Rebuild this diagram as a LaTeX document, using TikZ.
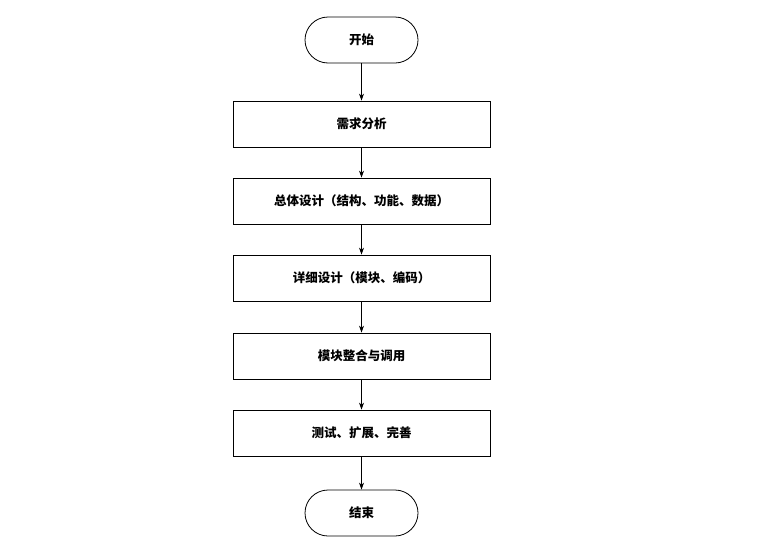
\documentclass[tikz,border=0pt]{standalone}
\usepackage{fontspec}
\newfontfamily\cjk{Noto Sans CJK SC}
\usetikzlibrary{arrows.meta}
\begin{document}
\begin{tikzpicture}[x=1pt,y=-1pt,
  box/.style={draw,line width=0.8pt,minimum width=257pt,minimum height=46pt,font=\cjk\bfseries\fontsize{12.5}{14}\selectfont,inner sep=0pt},
  term/.style={draw,line width=0.8pt,rounded corners=23pt,minimum width=113pt,minimum height=46pt,font=\cjk\bfseries\fontsize{12.5}{14}\selectfont,inner sep=0pt},
  arr/.style={-{Stealth[length=7pt,width=5pt]},line width=0.8pt}]
\useasboundingbox (0,0) rectangle (757,552);
\node[term] (s) at (361.5,40) {开始};
\node[box] (a) at (361.5,124) {需求分析};
\node[box] (b) at (361.5,201) {总体设计（结构、功能、数据）};
\node[box] (c) at (361.5,278) {详细设计（模块、编码）};
\node[box] (d) at (361.5,356) {模块整合与调用};
\node[box] (e) at (361.5,433) {测试、扩展、完善};
\node[term] (t) at (361.5,513) {结束};
\draw[arr] (s) -- (a);
\draw[arr] (a) -- (b);
\draw[arr] (b) -- (c);
\draw[arr] (c) -- (d);
\draw[arr] (d) -- (e);
\draw[arr] (e) -- (t);
\end{tikzpicture}
\end{document}
